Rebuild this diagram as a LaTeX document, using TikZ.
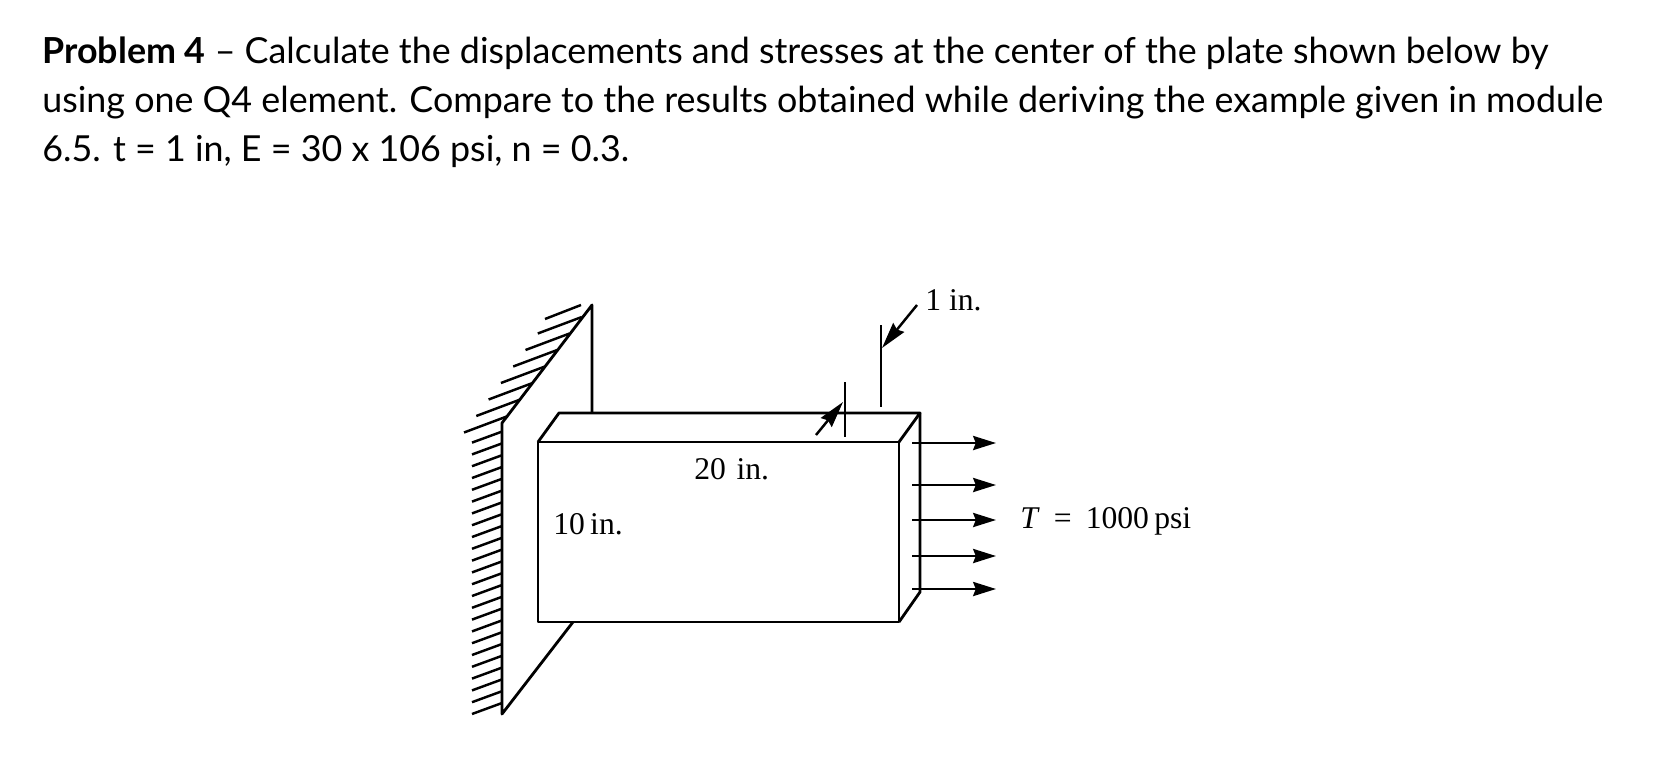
\documentclass[tikz,border=0pt]{standalone}
\usepackage{fontspec}
\setmainfont{Lato}
\newfontfamily\figfont{Liberation Serif}
\usetikzlibrary{arrows.meta}

\tikzset{
 plate/.style={black, line width=1.6pt, line join=round},
 hatch/.style={black, line width=1.4pt},
 load/.style={black, line width=1.5pt, -{Stealth[length=13pt,width=8pt,inset=1.5pt]}},
 dimline/.style={black, line width=1.4pt},
 dimarrow/.style={black, line width=1.4pt, -{Stealth[length=15pt,width=8pt,inset=1.5pt]}},
 label/.style={font=\figfont\fontsize{18}{20}\selectfont, inner sep=0},
}

\begin{document}
\begin{tikzpicture} [x=.02cm, y=-.02cm]
\useasboundingbox (0,0) rectangle (1655,767);
\node[anchor=north west, align=left, inner sep=0, font=\fontsize{20.4}{27.8}\selectfont] (problem) at (42,37)
 {\textbf{Problem 4} -- Calculate the displacements and stresses at the center of the plate shown below by\\
 using one Q4 element. Compare to the results obtained while deriving the example given in module\\
 6.5. t = 1 in, E = 30 x 106 psi, n = 0.3.};

% wall
\draw[plate] (573,622) -- (502,714) -- (502,423) -- (592,305) -- (592,413);
\foreach \y in {0,1,...,23} {
 \draw[hatch] (502,703-11.8*\y) --++(-30,11);
}
\foreach \i in {0,1,...,6} {
 \draw[hatch] (508+12.3*\i,416-16.5*\i) --++(-44,16.5);
}
\draw[hatch] (581,305) --++(-36,14);

% plate
\draw[plate] (538,442) rectangle (899,622);
\draw[plate] (538,442) -- (559,413) -- (920,413) -- (899,442);
\draw[plate] (899,622) -- (920,592) -- (920,413);

% thickness
\draw[dimline] (881,325) -- (881,407);
\draw[dimline] (845,382) -- (845,437);
\coordinate (upper) at (917,305);
\coordinate (uppertip) at (882,348);
\coordinate (lower) at (816,435);
\coordinate (lowertip) at (843,402);
\draw[dimarrow] (upper) -- (uppertip);
\draw[dimarrow] (lower) -- (lowertip);

% traction
\foreach \y in {443,485,520,556,589} {
 \draw[load] (912,\y) -- (996,\y);
}

\node[label, anchor=west] (thick) at (925,300) {1 in.};
\node[label, anchor=west] (length) at (694,469) {20\,\,in.};
\node[label, anchor=west] (height) at (553,524) {10\,in.};
\node[label, anchor=west] (traction) at (1020,521) {\textit{T}\;\,=\;\,1000\,psi};
\end{tikzpicture}
\end{document}
